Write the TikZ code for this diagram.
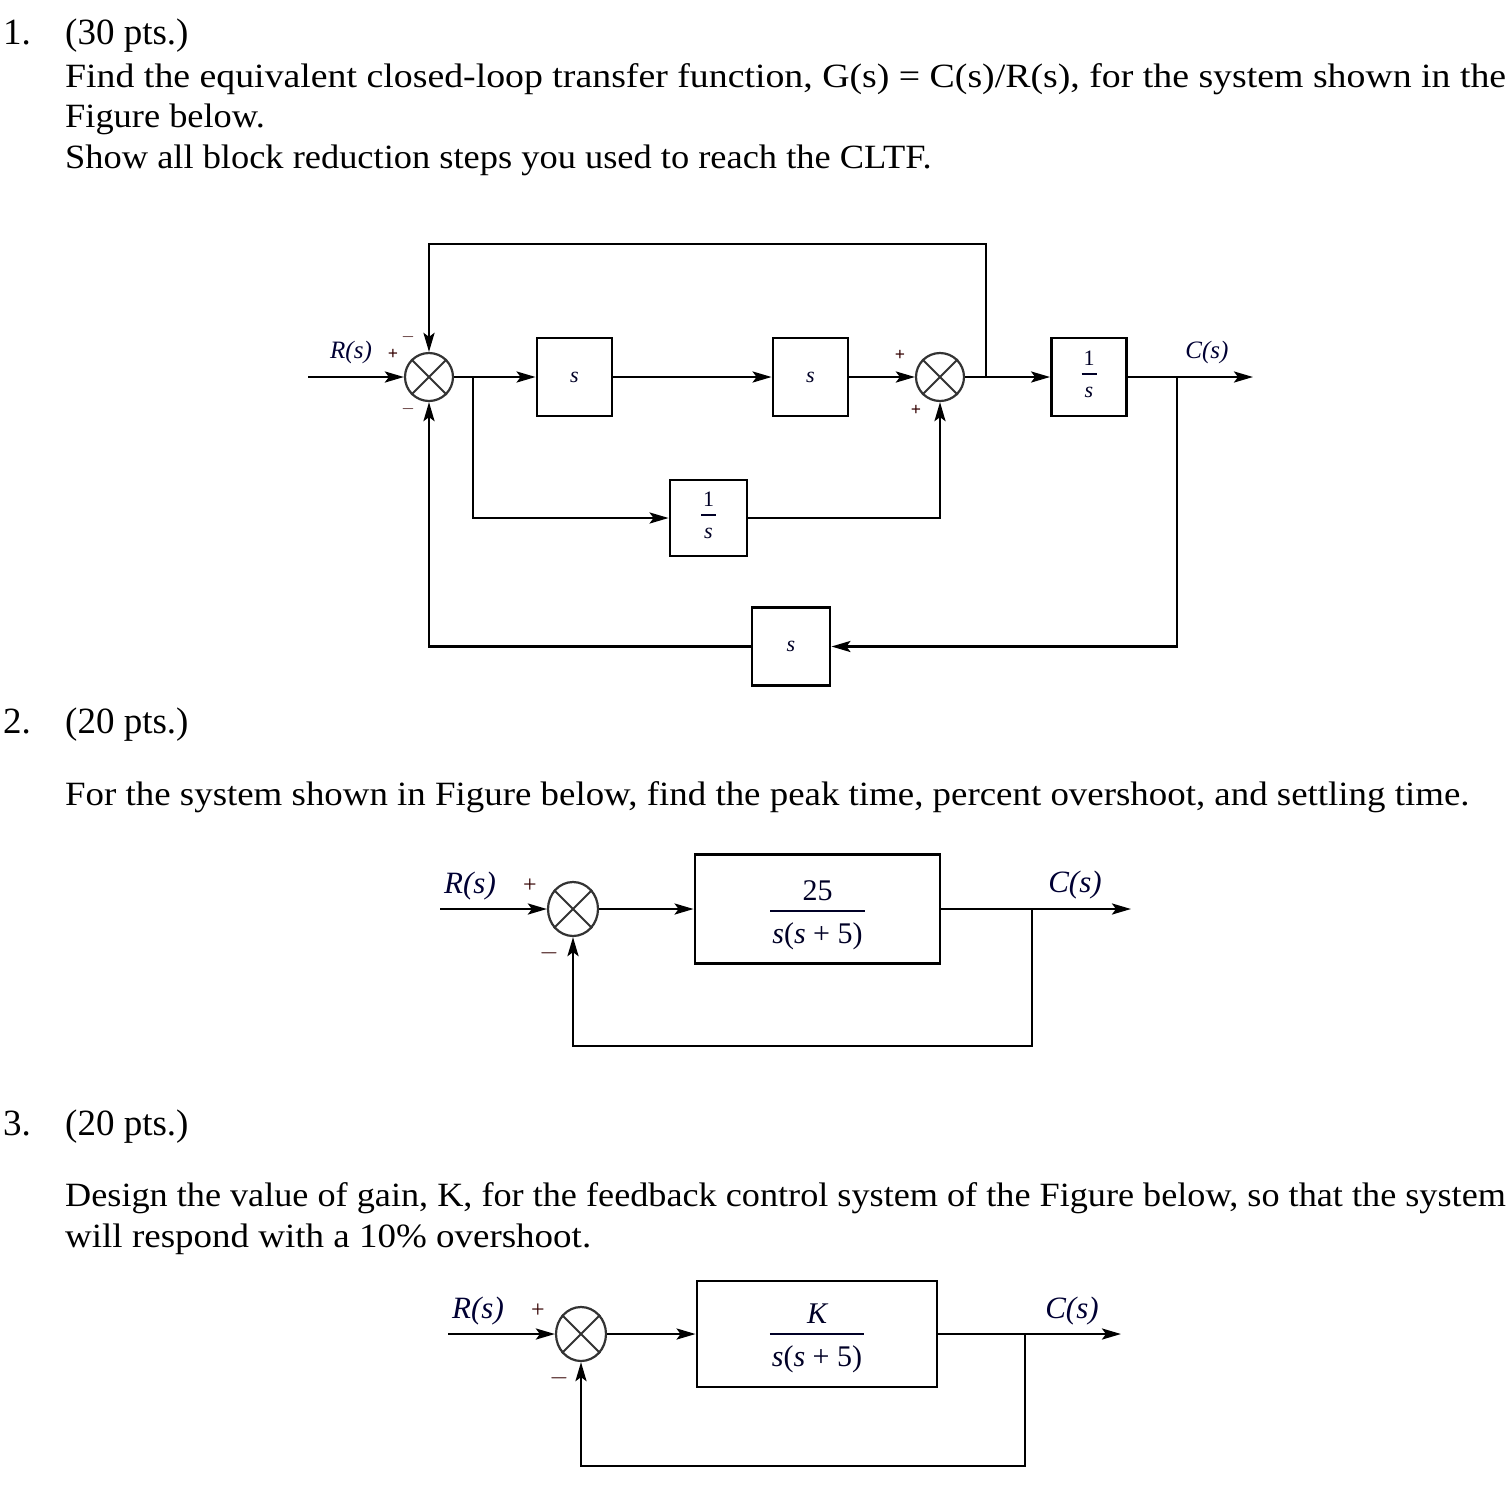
\documentclass[tikz,border=0pt]{standalone}
\usepackage{fontspec}
\setmainfont{Liberation Serif}
\newfontfamily\bodyfont{Liberation Serif}
\usetikzlibrary{arrows.meta,shapes.geometric}
\newcommand{\myfr}[2]{{\setlength{\arrayrulewidth}{2pt}\renewcommand{\arraystretch}{0.9}\begin{tabular}{@{\hspace{2pt}}c@{\hspace{2pt}}}#1\\[1pt]\hline\rule{0pt}{1.05em}#2\end{tabular}}}
\newcommand{\sx}[2]{\scalebox{#1}[1]{#2}}
\begin{document}
\begin{tikzpicture}[x=1pt,y=-1pt,
  wire/.style={line width=2.7pt},
  arr/.style={line width=2.7pt,-{Stealth[length=19pt,width=11pt,inset=4pt]}},
  blk/.style={draw,line width=2.8pt,inner sep=0pt,text=black!85!blue},
  sumc/.style={draw=black!80,circle,line width=2.2pt,minimum size=48pt,inner sep=0pt},
  sume/.style={draw=black!80,ellipse,line width=2.2pt,minimum width=50pt,minimum height=54pt,inner sep=0pt},
  xln/.style={draw=black!80,line width=2pt},
  lbl/.style={inner sep=0pt,text=black!80!blue,font=\fontsize{25}{28}\selectfont\itshape},
  lblb/.style={inner sep=0pt,text=black!80!blue,font=\fontsize{31}{34}\selectfont\itshape},
  sgn/.style={inner sep=0pt,text=black!80!red,font=\fontsize{18}{20}\selectfont\bfseries},
  sgnb/.style={inner sep=0pt,text=black!80!red,font=\fontsize{24}{26}\selectfont},
  num/.style={anchor=base west,inner sep=0pt,font=\fontsize{37}{40}\selectfont},
  body/.style={anchor=base west,inner sep=0pt,font=\fontsize{34}{40}\bodyfont}]
\useasboundingbox (0,0) rectangle (1509,1486);
\fill[white] (0,0) rectangle (1509,1486);

% ---------- texts ----------
\node[num] (n1) at (3,44) {1.};
\node[num] (p1) at (65,44) {(30 pts.)};
\node[body] (t1a) at (65,87) {\sx{1.112}{Find the equivalent closed-loop transfer function, G(s) = C(s)/R(s), for the system shown in the}};
\node[body] (t1b) at (65,127) {\sx{1.07}{Figure below.}};
\node[body] (t1c) at (65,168) {\sx{1.071}{Show all block reduction steps you used to reach the CLTF.}};

\node[num] (n2) at (3,733) {2.};
\node[num] (p2) at (65,733) {(20 pts.)};
\node[body] (t2) at (65,805) {\sx{1.085}{For the system shown in Figure below, find the peak time, percent overshoot, and settling time.}};

\node[num] (n3) at (3,1135) {3.};
\node[num] (p3) at (65,1135) {(20 pts.)};
\node[body] (t3a) at (65,1206) {\sx{1.065}{Design the value of gain, K, for the feedback control system of the Figure below, so that the system}};
\node[body] (t3b) at (65,1247) {\sx{1.088}{will respond with a 10\% overshoot.}};

% ---------- diagram 1 ----------
\node[sumc] (a1) at (429,377) {};
\node[sumc] (a2) at (940,377) {};
\path[xln] (a1.45) -- (a1.225) (a1.135) -- (a1.315);
\path[xln] (a2.45) -- (a2.225) (a2.135) -- (a2.315);
\node[blk,minimum width=75pt,minimum height=78pt,font=\fontsize{22}{24}\selectfont\itshape] (b1) at (574.5,377) {s};
\node[blk,minimum width=75pt,minimum height=78pt,font=\fontsize{22}{24}\selectfont\itshape] (b2) at (810.5,377) {s};
\node[blk,minimum width=75pt,minimum height=78pt,font=\fontsize{22}{24}\selectfont] (b3) at (1089,377) {\myfr{1}{\itshape s}};
\node[blk,minimum width=77pt,minimum height=76pt,font=\fontsize{22}{24}\selectfont] (b5) at (708.5,518) {\myfr{1}{\itshape s}};
\node[blk,minimum width=78pt,minimum height=78pt,font=\fontsize{22}{24}\selectfont\itshape] (b4) at (791,646.5) {s};

\coordinate (in1) at (308,377);
\coordinate (out1) at (1253,377);
\coordinate (j1) at (473,377);
\coordinate (j2) at (986,377);
\coordinate (j3) at (1177,377);
\coordinate (top1) at (986,244);

\draw[arr] (in1) -- (a1.west);
\draw[arr] (a1.east) -- (b1.west);
\draw[arr] (b1.east) -- (b2.west);
\draw[arr] (b2.east) -- (a2.west);
\draw[arr] (a2.east) -- (b3.west);
\draw[arr] (b3.east) -- (out1);
\draw[arr] (j2) -- (top1) -| (a1.north);
\draw[arr] (j1) |- (b5.west);
\draw[arr] (b5.east) -| (a2.south);
\draw[arr] (j3) |- (b4.east);
\draw[arr] (b4.west) -| (a1.south);

\node[lbl] (r1) at (351,352) {R(s)};
\node[sgn] (r1p) at (393,354) {+};
\node[sgn] (r1m) at (408,337) {$-$};
\node[sgn] (r1n) at (408,409) {$-$};
\node[sgn] (a2p) at (900,355) {+};
\node[sgn] (a2q) at (916,410) {+};
\node[lbl] (c1) at (1207,352) {C(s)};

% ---------- diagram 2 ----------
\node[sume] (a3) at (573,909) {};
\path[xln] (a3.45) -- (a3.225) (a3.135) -- (a3.315);
\node[blk,minimum width=245pt,minimum height=109pt,font=\fontsize{30}{32}\selectfont] (b6) at (817.5,909) {\raisebox{-13.5pt}[0pt][0pt]{\myfr{25}{\itshape s\upshape(\itshape s \upshape+ 5)}}};
\coordinate (in2) at (440,909);
\coordinate (out2) at (1131,909);
\coordinate (j4) at (1032,909);
\coordinate (bot2) at (1032,1046);
\draw[arr] (in2) -- (a3.west);
\draw[arr] (a3.east) -- (b6.west);
\draw[arr] (b6.east) -- (out2);
\draw[arr] (j4) -- (bot2) -| (a3.south);
\node[lblb] (r2) at (470,886) {R(s)};
\node[sgnb] (r2p) at (530,886) {+};
\node[sgnb] (r2m) at (549,953) {$-$};
\node[lblb] (c2) at (1075,885) {C(s)};

% ---------- diagram 3 ----------
\node[sume] (a4) at (581,1334) {};
\path[xln] (a4.45) -- (a4.225) (a4.135) -- (a4.315);
\node[blk,minimum width=240pt,minimum height=106pt,font=\fontsize{30}{32}\selectfont] (b7) at (817,1334) {\raisebox{-11.5pt}[0pt][0pt]{\myfr{\itshape K}{\itshape s\upshape(\itshape s \upshape+ 5)}}};
\coordinate (in3) at (448,1334);
\coordinate (out3) at (1121,1334);
\coordinate (j5) at (1025,1334);
\coordinate (bot3) at (1025,1466);
\draw[arr] (in3) -- (a4.west);
\draw[arr] (a4.east) -- (b7.west);
\draw[arr] (b7.east) -- (out3);
\draw[arr] (j5) -- (bot3) -| (a4.south);
\node[lblb] (r3) at (478,1311) {R(s)};
\node[sgnb] (r3p) at (538,1311) {+};
\node[sgnb] (r3m) at (559,1378) {$-$};
\node[lblb] (c3) at (1072,1311) {C(s)};
\end{tikzpicture}
\end{document}
